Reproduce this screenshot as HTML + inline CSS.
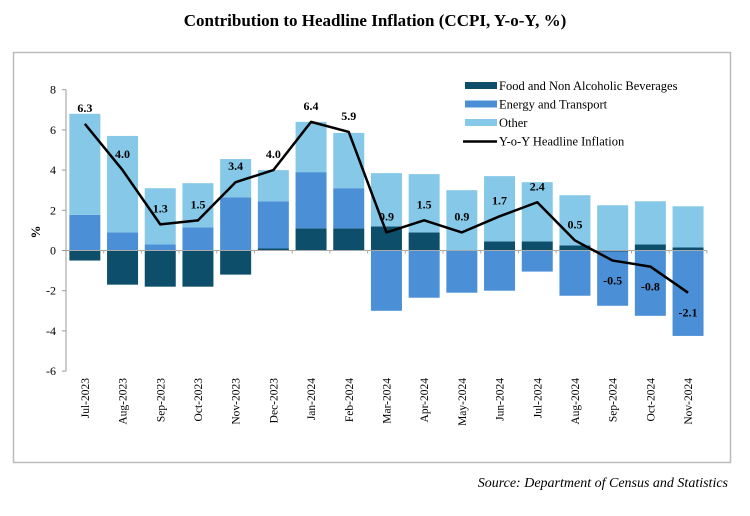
<!DOCTYPE html>
<html><head><meta charset="utf-8"><style>
body{margin:0;background:#fff;}
svg{display:block;font-family:"Liberation Serif",serif;}
</style></head><body>
<svg id="chart" width="750" height="516">
<text x="375" y="26" text-anchor="middle" font-size="17" font-weight="bold">Contribution to Headline Inflation (CCPI, Y-o-Y, %)</text>
<rect x="13.5" y="52.5" width="717" height="410" fill="none" stroke="#bbb" stroke-width="1.5"/>
<text x="728" y="487" text-anchor="end" font-size="14" font-style="italic">Source: Department of Census and Statistics</text>
<g id="plot"></g>
</svg>
<script>
const categories=["Jul-2023","Aug-2023","Sep-2023","Oct-2023","Nov-2023","Dec-2023","Jan-2024","Feb-2024","Mar-2024","Apr-2024","May-2024","Jun-2024","Jul-2024","Aug-2024","Sep-2024","Oct-2024","Nov-2024"];
const food=[-0.5,-1.7,-1.8,-1.8,-1.2,0.1,1.1,1.1,1.2,0.9,0,0.45,0.45,0.25,-0.05,0.3,0.15];
const energy=[1.77,0.9,0.3,1.15,2.65,2.35,2.8,2.0,-3.0,-2.35,-2.1,-2.0,-1.05,-2.25,-2.7,-3.25,-4.25];
const other=[5.03,4.8,2.8,2.2,1.9,1.55,2.5,2.75,2.65,2.9,3.0,3.25,2.95,2.5,2.25,2.15,2.05];
const headline=[6.3,4.0,1.3,1.5,3.4,4.0,6.4,5.9,0.9,1.5,0.9,1.7,2.4,0.5,-0.5,-0.8,-2.1];
const yTicks=[8,6,4,2,0,-2,-4,-6];
const seriesNames=["Food and Non Alcoholic Beverages","Energy and Transport","Other","Y-o-Y Headline Inflation"];
const colors=["#0d4f6b","#4b90d6","#86c8e8"];

const NS="http://www.w3.org/2000/svg";
const g=document.getElementById('plot');
const X0=66,STEP=37.7,BW=31,Y0=250.5,UNIT=20.1;
const x=i=>X0+i*STEP+STEP/2;
const y=v=>Y0-v*UNIT;
function mk(tag,attrs,txt){const e=document.createElementNS(NS,tag);for(const k in attrs)e.setAttribute(k,attrs[k]);if(txt!==undefined)e.textContent=txt;g.appendChild(e);return e;}

// y axis
mk('line',{x1:X0,x2:X0,y1:y(8),y2:y(-6),stroke:'#999'});
yTicks.forEach(t=>{
  mk('line',{x1:X0-4,x2:X0,y1:y(t),y2:y(t),stroke:'#999'});
  const l=mk('text',{x:X0-10,y:y(t)+4,'text-anchor':'end','font-size':12},String(t));
  
  
});
const yt=mk('text',{x:40,y:232,'text-anchor':'middle','font-size':13,'font-weight':'bold',transform:'rotate(-90 40 232)'},'%');



// bars
const series=[food,energy,other];
categories.forEach((c,i)=>{
  let pos=0,neg=0;
  series.forEach((s,k)=>{
    const v=s[i];
    let top,bot;
    if(v>=0){top=pos+v;bot=pos;pos=top;}else{top=neg;bot=neg+v;neg=bot;}
    const r=mk('rect',{x:x(i)-BW/2,y:y(top),width:BW,height:Math.max(0,y(bot)-y(top)),fill:colors[k]});
    
    
  });
});
// zero axis
mk('line',{x1:X0,x2:X0+categories.length*STEP,y1:Y0,y2:Y0,stroke:'#aaa'});
categories.forEach((c,i)=>{
  mk('line',{x1:X0+(i+1)*STEP,x2:X0+(i+1)*STEP,y1:Y0,y2:Y0+3,stroke:'#aaa'});
  const t=mk('text',{x:0,y:0,'text-anchor':'end','font-size':11.5,transform:`translate(${x(i)+4},378) rotate(-90)`},c);
  
  
});
// line
const pl=mk('polyline',{points:headline.map((v,i)=>x(i)+','+y(v)).join(' '),fill:'none',stroke:'#000','stroke-width':2.5,'stroke-linejoin':'round'});


headline.forEach((v,i)=>{
  const ty=v>=0?y(v)-12:y(v)+24;
  const t=mk('text',{x:x(i),y:ty,'text-anchor':'middle','font-size':12,'font-weight':'bold'},v.toFixed(1));
  
  
});
// legend
seriesNames.forEach((n,k)=>{
  const ly=86+k*18.5;
  let s;
  if(k<3) s=mk('rect',{x:465,y:ly-4,width:32,height:7,fill:colors[k]});
  else s=mk('line',{x1:463,x2:497,y1:ly,y2:ly,stroke:'#000','stroke-width':2.5});
  
  
  const t=mk('text',{x:499,y:ly+4,'font-size':12.5},n);
  
  
});
</script>
</body></html>
